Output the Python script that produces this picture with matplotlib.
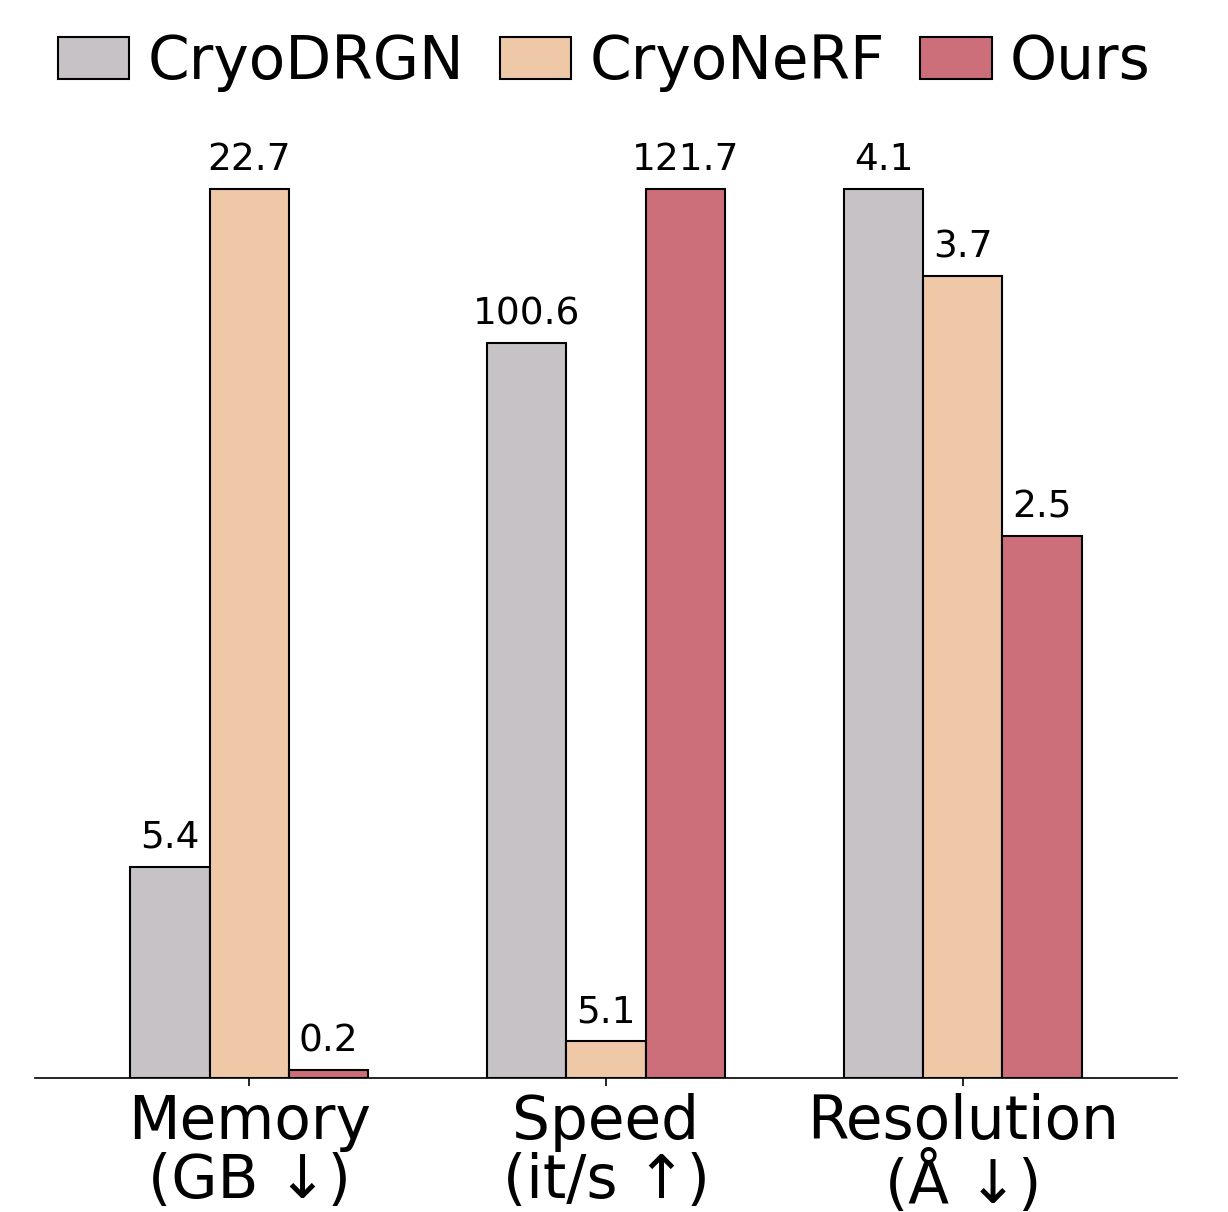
import numpy as np
import matplotlib.pyplot as plt

categories = ['Memory\n(GB ↓)', 'Speed\n(it/s ↑)', 'Resolution\n(Å ↓)']
methods = ['CryoDRGN', 'CryoNeRF', 'Ours']
cryodrgn = [5.4, 100.6, 4.1]
cryonerf = [22.7, 5.1, 3.7]
ours = [0.2, 121.7, 2.5]
colors = ['#C6C2C6', '#EFC8A8', '#CD6F7A']

vals = np.array([cryodrgn, cryonerf, ours])
# each metric is scaled to its own max
norm = vals / vals.max(axis=0)

fig = plt.figure(figsize=(12.28, 12.12), dpi=100)
ax = fig.add_axes([35 / 1228, 134 / 1212, 1142 / 1228, 889 * 1.13 / 1212])

x = np.arange(len(categories))
w = 0.222
for i, name in enumerate(methods):
    pos = x + (i - 1) * w
    bars = ax.bar(pos, norm[i], w, color=colors[i], edgecolor='black', linewidth=1.5, label=name)
    for b, v in zip(bars, vals[i]):
        ax.text(b.get_x() + b.get_width() / 2, b.get_height() + 0.012, f'{v:.1f}',
                ha='center', va='bottom', fontsize=27)

ax.set_xlim(-0.6, 2.6)
ax.set_ylim(0, 1.13)
ax.set_xticks(x)
ax.set_xticklabels(categories, fontsize=43, linespacing=1.0)
ax.set_yticks([])
for s in ['top', 'right', 'left']:
    ax.spines[s].set_visible(False)
ax.spines['bottom'].set_linewidth(1.2)
ax.tick_params(axis='x', length=6, width=1.2, pad=5)

fig.legend(loc='upper center', bbox_to_anchor=(0.492, 1.017), ncol=3, frameon=False,
           fontsize=43, handlelength=1.2, handleheight=0.7, columnspacing=0.6, handletextpad=0.3)

plt.savefig('out.png', dpi=100)
